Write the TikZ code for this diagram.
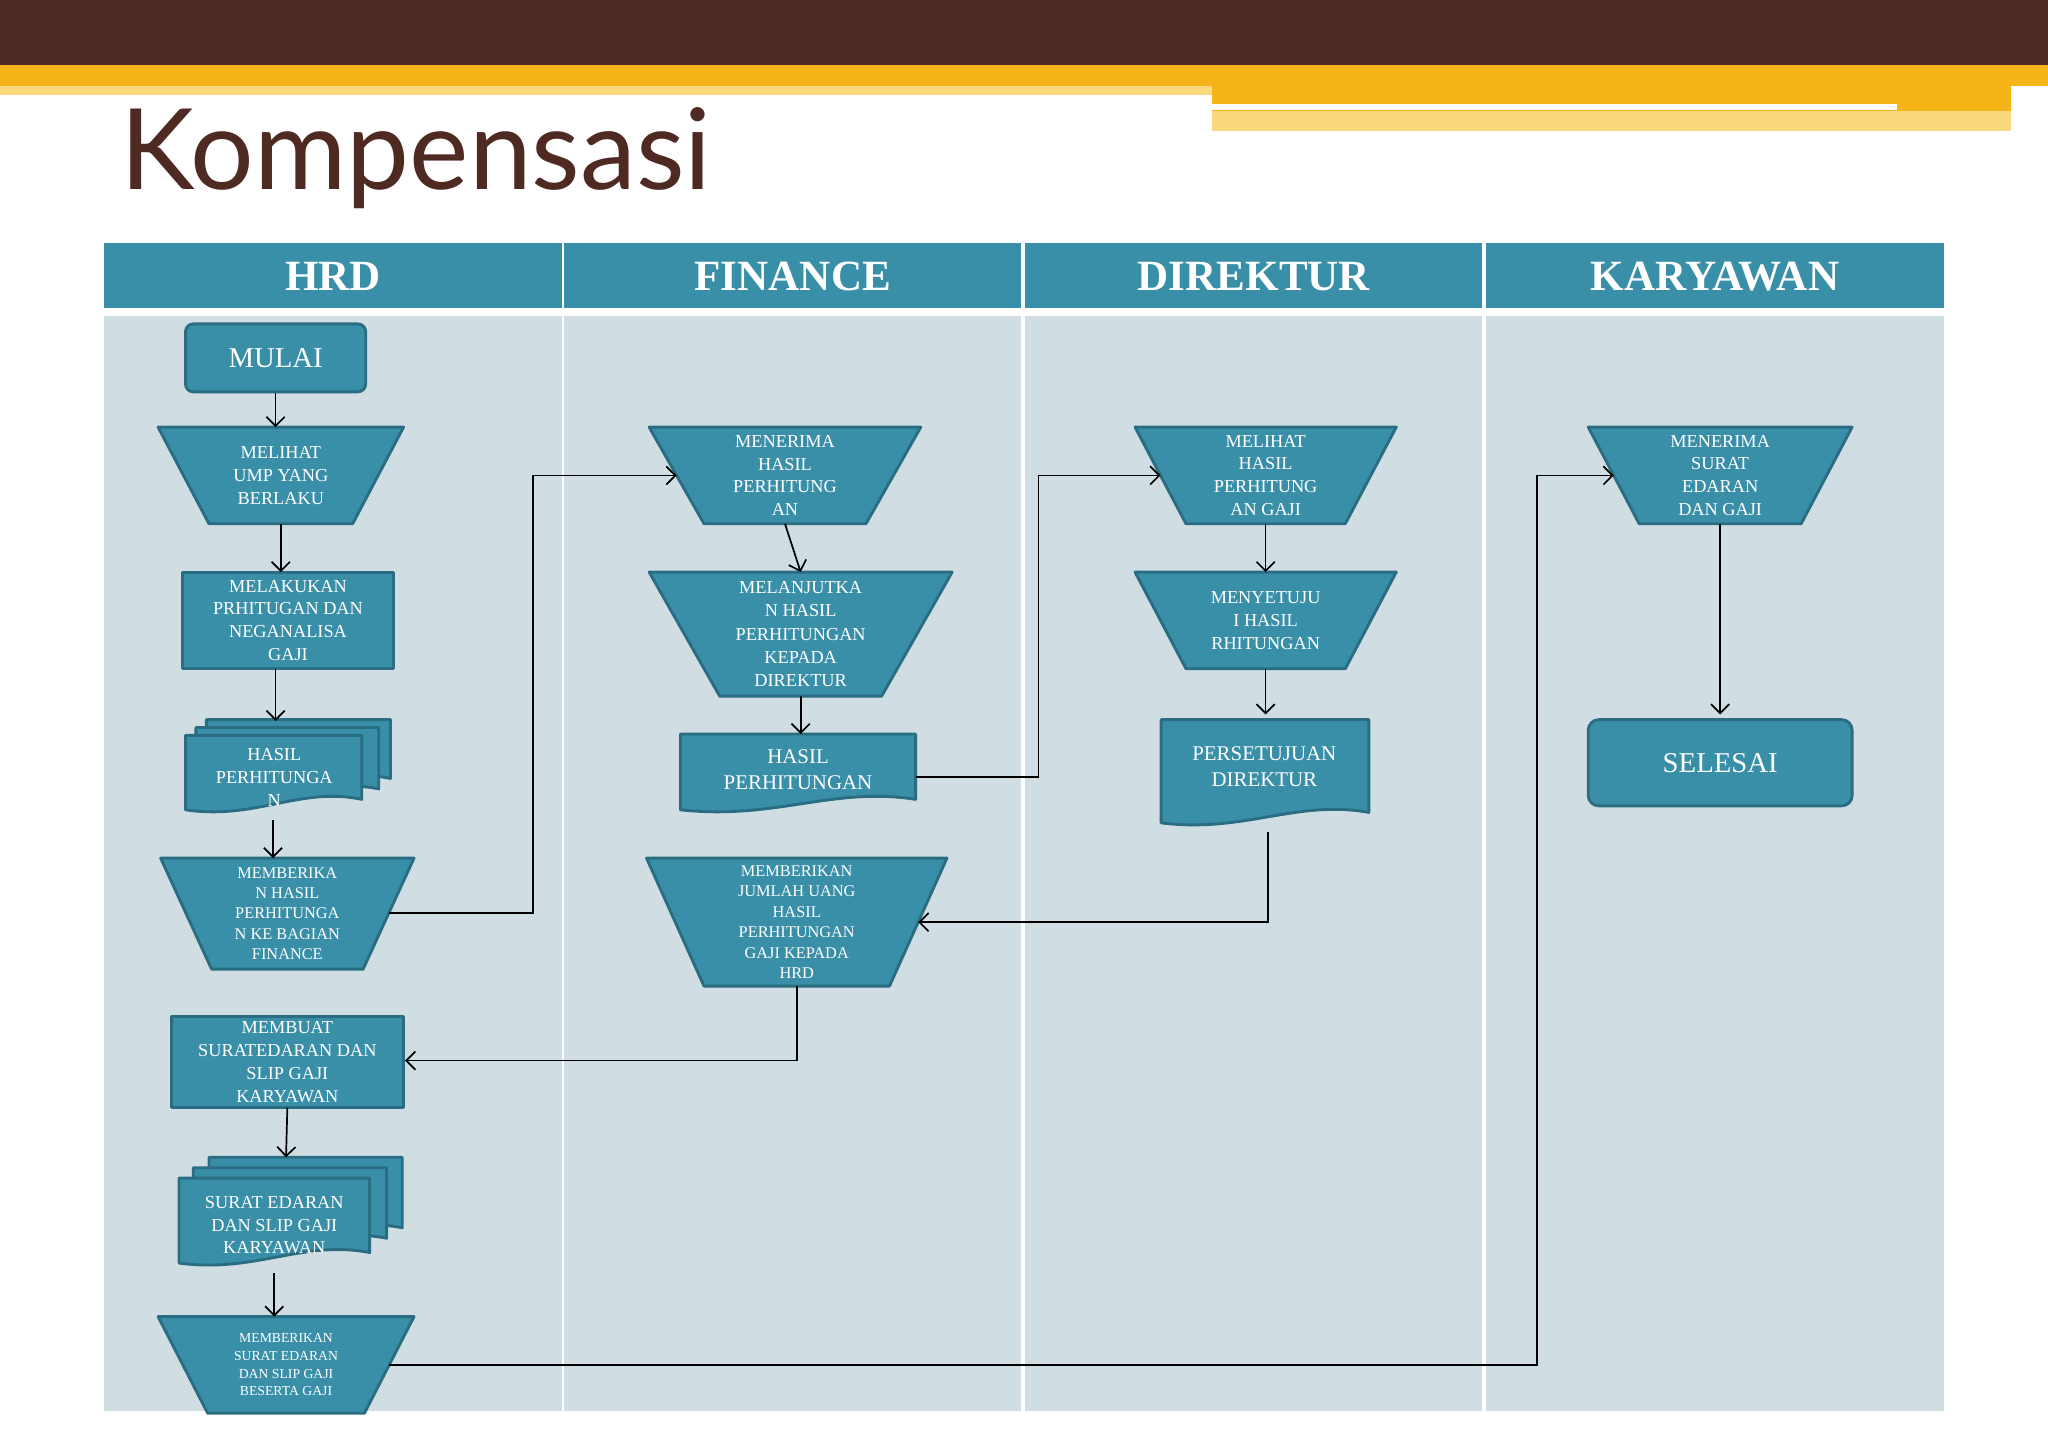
\documentclass[tikz,border=0pt]{standalone}
\usepackage{fontspec}
\setmainfont{Liberation Serif}
\newfontfamily\titlefont{Lato}
\usetikzlibrary{arrows.meta}
\definecolor{brown1}{HTML}{4E2A22}
\definecolor{orange1}{HTML}{F7B419}
\definecolor{yel1}{HTML}{FBD77E}
\definecolor{teal1}{HTML}{3A8FA8}
\definecolor{teal2}{HTML}{2A6C82}
\definecolor{lane}{HTML}{D0DEE3}
\tikzset{
 box/.style={fill=teal1,draw=teal2,line width=2.2pt,line join=round},
 txt/.style={text=white,align=center,inner sep=0pt,font=\fontsize{14}{17.5}\selectfont},
 rbox/.style={box,txt,rectangle},
 arr/.style={-{Straight Barb[length=7pt,width=14pt]},line width=1.3pt,black},
 lanehead/.style={text=white,font=\fontsize{33}{36}\selectfont\bfseries}
}
\newcommand\trap[8]{%
 \draw[box] ({#2-#5},#3)--({#2+#5},#3)--({#2+#6},#4)--({#2-#6},#4)--cycle;
 \node[txt,font=#7] (#1) at (#2,{(#3+#4)/2}) {#8};
 \coordinate (#1-l) at ({#2-(#5+#6)/2},{(#3+#4)/2});
 \coordinate (#1-r) at ({#2+(#5+#6)/2},{(#3+#4)/2});
 \coordinate (#1-t) at (#2,#3);
 \coordinate (#1-b) at (#2,#4);}
\newcommand\docshape[4]{%
 \pgfmathsetmacro\dw{#3-#1}%
 \draw[box] (#1,#2) -- (#3,#2) -- (#3,#4-8) .. controls ({#3-0.35*\dw},#4-18) and ({#1+0.4*\dw},#4+8) .. (#1,#4) -- cycle;}
\begin{document}
\begin{tikzpicture}[x=1pt,y={(0,-1pt)}]
\useasboundingbox (0,0) rectangle (1568,1108);
\fill[white] (0,0) rectangle (1568,1108);
% header bands
\fill[brown1] (0,0) rectangle (1568,50);
\fill[orange1] (0,50) rectangle (1568,66);
\fill[yel1] (0,66) rectangle (928,73);
\fill[orange1] (928,66) rectangle (1540,85);
\fill[yel1] (928,85) rectangle (1540,100);
\fill[white] (928,80) rectangle (1452,84);
\node[anchor=base west,text=brown1,font=\titlefont\fontsize{86}{90}\selectfont,inner sep=0] (title) at (92,145) {Kompensasi};
% lanes
\foreach \x/\t [count=\i] in {80/HRD,432/FINANCE,785/DIREKTUR,1138/KARYAWAN}{
 \fill[teal1] (\x,186) rectangle (\x+350,236);
 \fill[lane] (\x,242) rectangle (\x+350,1080);
 \node[lanehead] (h\i) at (\x+175,212) {\t};
}
% HRD
\node[rbox,rounded corners=6pt,minimum width=138pt,minimum height=52pt,font=\fontsize{22}{24}\selectfont] (mulai) at (211,274) {MULAI};
\trap{melihat}{215}{327}{401}{94}{55}{\fontsize{14}{17.5}\selectfont}{MELIHAT\\UMP YANG\\BERLAKU}
\node[rbox,minimum width=161pt,minimum height=74pt] (lakukan) at (220.5,475) {MELAKUKAN\\PRHITUGAN DAN\\NEGANALISA\\GAJI};
\docshape{158}{551}{299}{604}
\docshape{150}{557}{290}{612}
\docshape{142}{563}{277}{620}
\node[txt] (hasil1) at (210,595) {HASIL\\PERHITUNGA\\N};
\trap{beri1}{220}{657}{742}{97}{58}{\fontsize{12.5}{15.6}\selectfont}{MEMBERIKA\\N HASIL\\PERHITUNGA\\N KE BAGIAN\\FINANCE}
\node[rbox,minimum width=178pt,minimum height=70pt] (buat) at (220,813) {MEMBUAT\\SURATEDARAN DAN\\SLIP GAJI\\KARYAWAN};
\docshape{160}{886}{308}{948}
\docshape{148}{894}{296}{956}
\docshape{137}{902}{283}{967}
\node[txt] (surat) at (210,938) {SURAT EDARAN\\DAN SLIP GAJI\\KARYAWAN};
\trap{beri2}{219}{1008}{1082}{98}{60}{\fontsize{10.5}{13.5}\selectfont}{MEMBERIKAN\\SURAT EDARAN\\DAN SLIP GAJI\\BESERTA GAJI}
% FINANCE
\trap{terima}{601}{327}{401}{104}{62}{\fontsize{14}{17.5}\selectfont}{MENERIMA\\HASIL\\PERHITUNG\\AN}
\trap{lanjut}{613}{438}{533}{116}{62}{\fontsize{14}{17.8}\selectfont}{MELANJUTKA\\N HASIL\\PERHITUNGAN\\KEPADA\\DIREKTUR}
\docshape{521}{562}{701}{620}
\node[txt,font=\fontsize{16}{20}\selectfont] (hasil2) at (611,589) {HASIL\\PERHITUNGAN};
\trap{jumlah}{610}{657}{755}{115}{71}{\fontsize{12.5}{15.6}\selectfont}{MEMBERIKAN\\JUMLAH UANG\\HASIL\\PERHITUNGAN\\GAJI KEPADA\\HRD}
% DIREKTUR
\trap{lihat2}{969}{327}{401}{100}{61}{\fontsize{14}{17.5}\selectfont}{MELIHAT\\HASIL\\PERHITUNG\\AN GAJI}
\trap{setuju}{969}{438}{512}{100}{61}{\fontsize{14}{17.5}\selectfont}{MENYETUJU\\I HASIL\\RHITUNGAN}
\docshape{889}{551}{1048}{630}
\node[txt,font=\fontsize{16}{20}\selectfont] (persetujuan) at (968,587) {PERSETUJUAN\\DIREKTUR};
% KARYAWAN
\trap{terima2}{1317}{327}{401}{101}{62}{\fontsize{14}{17.5}\selectfont}{MENERIMA\\SURAT\\EDARAN\\DAN GAJI}
\node[rbox,rounded corners=8pt,minimum width=202pt,minimum height=66pt,font=\fontsize{22}{24}\selectfont] (selesai) at (1317,584) {SELESAI};
% arrows
\draw[arr] (mulai.south) -- (211,327);
\draw[arr] (melihat-b) -- (215,438);
\draw[arr] (211,512) -- (211,552);
\draw[arr] (209,628) -- (209,657);
\draw[arr] (298,699) -- (408,699) -- (408,364) -- (terima-l);
\draw[arr] (terima-b) -- (lanjut-t);
\draw[arr] (lanjut-b) -- (613,562);
\draw[arr] (701,595) -- (795,595) -- (795,364) -- (lihat2-l);
\draw[arr] (lihat2-b) -- (setuju-t);
\draw[arr] (setuju-b) -- (969,547);
\draw[arr] (971,637) -- (971,706) -- (jumlah-r |- 0,706);
\draw[arr] (jumlah-b) -- (610,812) -- (buat.east |- 0,812);
\draw[arr] (220,848) -- (219,886);
\draw[arr] (210,975) -- (beri2-t -| 210,0);
\draw[arr] (298,1045) -- (1177,1045) -- (1177,364) -- (terima2-l);
\draw[arr] (terima2-b) -- (1317,547);
\end{tikzpicture}
\end{document}
